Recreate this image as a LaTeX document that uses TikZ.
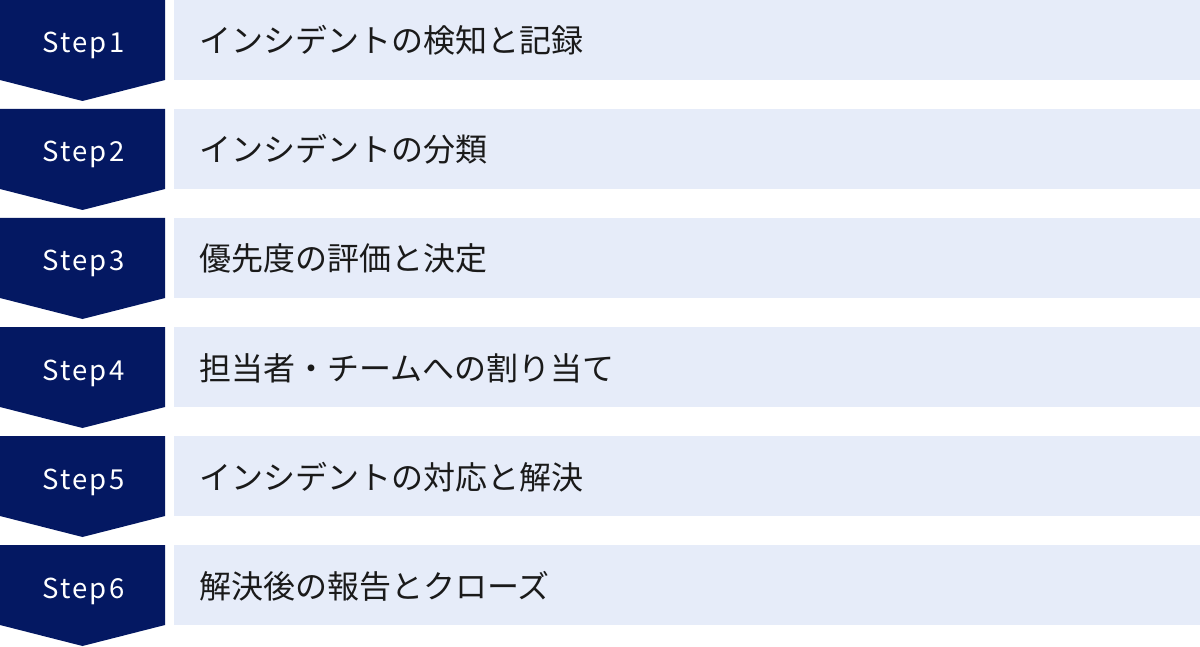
\documentclass[tikz,border=0pt]{standalone}
\usepackage{fontspec}
\setmainfont{Noto Sans CJK JP}
\newfontfamily\jpfont{Noto Sans CJK JP}
\newfontfamily\stepfont[LetterSpace=8]{Noto Sans CJK JP}
\definecolor{navy}{HTML}{041862}
\definecolor{paleblue}{HTML}{E6ECF9}
\definecolor{ink}{HTML}{1A1A1A}
\begin{document}
\begin{tikzpicture}[x=1pt,y=-1pt,
  chev/.style={fill=navy,draw=none},
  band/.style={fill=paleblue,draw=none},
  steplabel/.style={text=white,font=\stepfont\fontsize{27.5}{30}\selectfont,inner sep=0pt,anchor=base},
  desclabel/.style={text=ink,font=\jpfont\fontsize{32}{36}\selectfont,inner sep=0pt,anchor=base west}]
\useasboundingbox (0,0) rectangle (1200,647);
\foreach \i/\t [count=\n] in {0/インシデントの検知と記録,109/インシデントの分類,218/優先度の評価と決定,327/担当者・チームへの割り当て,436/インシデントの対応と解決,545/解決後の報告とクローズ}{
  \fill[chev] (0,\i) -- (165,\i) -- (165,\i+80) -- (82.5,\i+101) -- (0,\i+80) -- cycle;
  \fill[band] (174,\i) rectangle (1200,\i+80);
  \node[steplabel] (s\n) at (83.5,\i+53) {Step\n};
  \node[desclabel] (d\n) at (199,\i+53) {\t};
}
\end{tikzpicture}
\end{document}
